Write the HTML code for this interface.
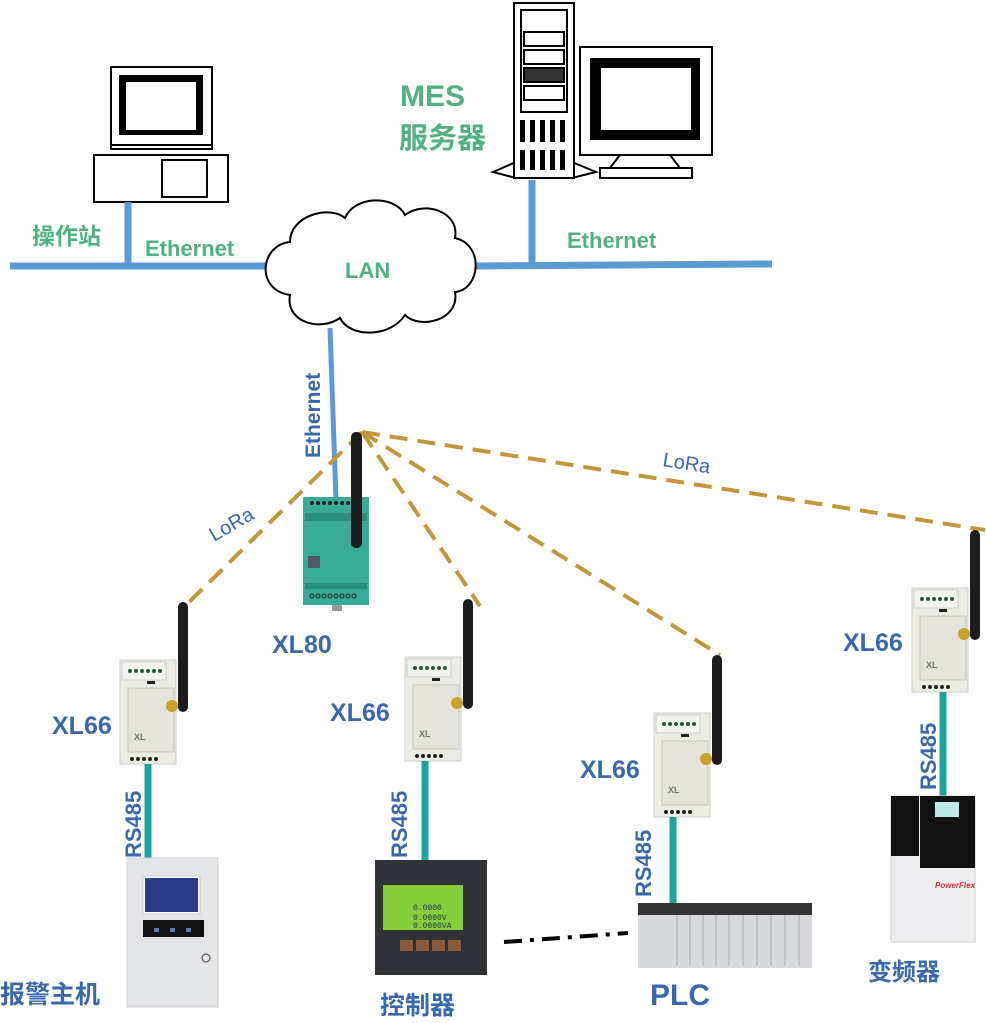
<!DOCTYPE html>
<html><head><meta charset="utf-8"><style>
html,body{margin:0;padding:0;background:#fff;}
svg{display:block;}
.g{fill:#52b083;font-family:"Liberation Sans","Noto Sans CJK SC",sans-serif;font-weight:bold;}
.b{fill:#3a68ad;font-family:"Liberation Sans","Noto Sans CJK SC",sans-serif;font-weight:bold;}
</style></head><body>
<svg width="987" height="1023" viewBox="0 0 987 1023" xmlns="http://www.w3.org/2000/svg">
<defs>
<g id="xl66">
  <rect x="0" y="0" width="56" height="104" fill="#ecebe4" stroke="#d0cfc8"/>
  <rect x="2" y="2" width="44" height="18" fill="#f4f4ef" stroke="#ccc"/>
  <g fill="#1f5a3a"><circle cx="10" cy="11" r="2"/><circle cx="16" cy="11" r="2"/><circle cx="22" cy="11" r="2"/><circle cx="28" cy="11" r="2"/><circle cx="34" cy="11" r="2"/><circle cx="40" cy="11" r="2"/></g>
  <rect x="8" y="28" width="46" height="64" fill="#e4e3dc" stroke="#c8c7c0"/>
  <rect x="27" y="21" width="8" height="3" fill="#222"/>
  <text x="14" y="80" font-size="9" fill="#777" font-family="Liberation Sans" font-weight="bold">XL</text>
  <g fill="#222"><circle cx="12" cy="99" r="2"/><circle cx="18" cy="99" r="2"/><circle cx="24" cy="99" r="2"/><circle cx="30" cy="99" r="2"/><circle cx="36" cy="99" r="2"/></g>
  <circle cx="52" cy="46" r="6" fill="#c9a227"/>
  <rect x="58" y="-58" width="10" height="110" rx="5" fill="#1c1c1c"/>
</g>
</defs>

<!-- left computer -->
<g stroke="#000" fill="#fff" stroke-width="2">
  <rect x="111" y="67" width="101" height="82"/>
  <rect x="120" y="76" width="82" height="58" fill="#000"/>
  <rect x="126" y="82" width="70" height="48" fill="#fff" stroke="none"/>
  <rect x="94" y="155" width="134" height="47"/>
  <rect x="162" y="160" width="45" height="37"/>
  <line x1="111" y1="145" x2="212" y2="145"/>
</g>
<!-- server -->
<g stroke="#000" fill="#fff" stroke-width="2">
  <path d="M493 172 L516 162 L516 178 Z M572 162 L596 172 L572 178 Z"/>
  <rect x="514" y="3" width="60" height="175"/>
  <rect x="521" y="10" width="46" height="102"/>
  <rect x="524" y="32" width="40" height="14"/>
  <rect x="524" y="50" width="40" height="14"/>
  <rect x="524" y="68" width="40" height="14" fill="#333"/>
  <rect x="524" y="86" width="40" height="14"/>
  <rect x="580" y="47" width="132" height="108"/>
  <rect x="591" y="59" width="108" height="80" fill="#000"/>
  <rect x="601" y="68" width="90" height="62" fill="#fff" stroke="none"/>
  <path d="M620 155 L610 168 L680 168 L670 155 Z"/>
  <rect x="600" y="168" width="92" height="10"/>
</g>
<g fill="#000"><rect x="520" y="120" width="5" height="22"/><rect x="530" y="120" width="5" height="22"/><rect x="540" y="120" width="5" height="22"/><rect x="550" y="120" width="5" height="22"/><rect x="560" y="120" width="5" height="22"/><rect x="520" y="150" width="5" height="20"/><rect x="530" y="150" width="5" height="20"/><rect x="540" y="150" width="5" height="20"/><rect x="550" y="150" width="5" height="20"/><rect x="560" y="150" width="5" height="20"/></g>

<!-- ethernet lines -->
<g stroke="#5b9bd5" stroke-width="7" fill="none">
  <line x1="10" y1="266" x2="275" y2="266"/>
  <line x1="470" y1="266" x2="772" y2="264"/>
  <line x1="128" y1="202" x2="128" y2="266"/>
  <line x1="532" y1="180" x2="532" y2="266"/>
  <line x1="330" y1="328" x2="336" y2="500" stroke-width="5"/>
</g>
<!-- cloud -->
<path d="M290 295 C255 290 260 245 290 242 C290 215 330 205 345 218 C355 195 395 195 405 215 C425 200 460 212 455 238 C485 245 480 290 455 292 C460 320 420 330 405 315 C390 338 350 338 340 318 C320 332 285 322 290 295 Z" fill="#fff" stroke="#000" stroke-width="2"/>

<text x="400" y="106" class="g" font-size="30">MES</text>
<text x="399" y="148" class="g" font-size="29">服务器</text>
<text x="32" y="244" class="g" font-size="23">操作站</text>
<text x="145" y="256" class="g" font-size="22">Ethernet</text>
<text x="567" y="248" class="g" font-size="22">Ethernet</text>
<text x="345" y="278" class="g" font-size="22">LAN</text>
<text transform="translate(320,458) rotate(-90)" class="b" font-size="21">Ethernet</text>

<!-- LoRa dashed -->
<g stroke="#c4963a" stroke-width="4" stroke-dasharray="18,10" fill="none">
  <line x1="362" y1="432" x2="183" y2="608"/>
  <line x1="362" y1="432" x2="480" y2="606"/>
  <line x1="362" y1="432" x2="720" y2="655"/>
  <line x1="362" y1="432" x2="985" y2="530"/>
</g>
<text transform="translate(214,542) rotate(-30)" fill="#3a68ad" font-family="Liberation Sans" font-size="20">LoRa</text>
<text transform="translate(662,466) rotate(9)" fill="#3a68ad" font-family="Liberation Sans" font-size="20">LoRa</text>

<!-- XL80 -->
<rect x="303" y="497" width="66" height="108" fill="#3aaa98"/>
<rect x="305" y="513" width="62" height="8" fill="#2b8f80"/>
<rect x="305" y="583" width="62" height="6" fill="#2b8f80"/>
<g fill="#222"><circle cx="312" cy="503" r="2"/><circle cx="318" cy="503" r="2"/><circle cx="324" cy="503" r="2"/><circle cx="330" cy="503" r="2"/><circle cx="336" cy="503" r="2"/><circle cx="342" cy="503" r="2"/><circle cx="348" cy="503" r="2"/></g>
<g fill="none" stroke="#222"><circle cx="312" cy="596" r="2"/><circle cx="318" cy="596" r="2"/><circle cx="324" cy="596" r="2"/><circle cx="330" cy="596" r="2"/><circle cx="336" cy="596" r="2"/><circle cx="342" cy="596" r="2"/><circle cx="348" cy="596" r="2"/><circle cx="354" cy="596" r="2"/></g>
<rect x="308" y="556" width="12" height="12" fill="#556"/>
<rect x="332" y="605" width="10" height="6" fill="#999"/>
<rect x="351" y="432" width="11" height="116" rx="5" fill="#1c1c1c"/>
<text x="272" y="653" class="b" font-size="25">XL80</text>

<!-- XL66s -->
<use href="#xl66" x="120" y="660"/>
<use href="#xl66" x="405" y="657"/>
<use href="#xl66" x="654" y="713"/>
<use href="#xl66" x="912" y="588"/>
<text x="52" y="734" class="b" font-size="25">XL66</text>
<text x="330" y="721" class="b" font-size="25">XL66</text>
<text x="580" y="778" class="b" font-size="25">XL66</text>
<text x="843" y="651" class="b" font-size="25">XL66</text>

<!-- RS485 -->
<g stroke="#1aa59a" stroke-width="7">
  <line x1="148" y1="764" x2="148" y2="858"/>
  <line x1="425" y1="761" x2="425" y2="860"/>
  <line x1="673" y1="817" x2="673" y2="905"/>
  <line x1="943" y1="692" x2="943" y2="796"/>
</g>
<text transform="translate(141,858) rotate(-90)" class="b" font-size="22">RS485</text>
<text transform="translate(407,858) rotate(-90)" class="b" font-size="22">RS485</text>
<text transform="translate(651,897) rotate(-90)" class="b" font-size="22">RS485</text>
<text transform="translate(936,790) rotate(-90)" class="b" font-size="22">RS485</text>

<!-- alarm host -->
<rect x="127" y="858" width="91" height="149" fill="#e4e5e8" stroke="#cfd0d4"/>
<rect x="143" y="876" width="57" height="38" fill="#fff" stroke="#ccc"/>
<rect x="145" y="878" width="53" height="34" fill="#2c3a8a"/>
<rect x="143" y="920" width="61" height="17" fill="#111"/>
<rect x="154" y="928" width="5" height="4" fill="#5577cc"/><rect x="170" y="928" width="5" height="4" fill="#5577cc"/><rect x="186" y="928" width="5" height="4" fill="#5577cc"/>
<circle cx="206" cy="958" r="4" fill="none" stroke="#333"/>

<!-- controller -->
<rect x="375" y="860" width="112" height="115" fill="#2e3236"/>
<rect x="383" y="885" width="80" height="45" fill="#86cf3a"/>
<text x="413" y="910" font-family="Liberation Mono" font-size="8" fill="#234">0.0000</text>
<text x="413" y="920" font-family="Liberation Mono" font-size="8" fill="#234">0.0000V</text>
<text x="413" y="928" font-family="Liberation Mono" font-size="8" fill="#234">0.0000VA</text>
<g fill="#8a5a3a"><rect x="400" y="940" width="13" height="11"/><rect x="416" y="940" width="13" height="11"/><rect x="432" y="940" width="13" height="11"/><rect x="448" y="940" width="13" height="11"/></g>
<text x="380" y="1014" class="b" font-size="25">控制器</text>

<!-- dash-dot -->
<line x1="504" y1="942" x2="628" y2="933" stroke="#000" stroke-width="4" stroke-dasharray="18,8,4,8"/>

<!-- PLC -->
<rect x="638" y="906" width="174" height="62" fill="#d8d9dc"/>
<rect x="638" y="903" width="174" height="12" fill="#333"/>
<g stroke="#aaa"><line x1="677" y1="915" x2="677" y2="966"/><line x1="690" y1="915" x2="690" y2="966"/><line x1="703" y1="915" x2="703" y2="966"/><line x1="716" y1="915" x2="716" y2="966"/><line x1="729" y1="915" x2="729" y2="966"/><line x1="743" y1="915" x2="743" y2="966"/><line x1="757" y1="915" x2="757" y2="966"/><line x1="771" y1="915" x2="771" y2="966"/><line x1="785" y1="915" x2="785" y2="966"/><line x1="799" y1="915" x2="799" y2="966"/></g>
<text x="650" y="1005" class="b" font-size="30">PLC</text>

<!-- inverter -->
<rect x="891" y="796" width="84" height="146" fill="#eeeef0" stroke="#ccc"/>
<rect x="891" y="796" width="28" height="60" fill="#111"/>
<rect x="920" y="796" width="55" height="72" fill="#111"/>
<rect x="935" y="802" width="24" height="15" fill="#bfe8ea"/>
<text x="935" y="888" font-family="Liberation Sans" font-style="italic" font-weight="bold" font-size="8" fill="#c33">PowerFlex</text>
<text x="868" y="980" class="b" font-size="24">变频器</text>
<text x="0" y="1003" class="b" font-size="25">报警主机</text>
</svg>
</body></html>
